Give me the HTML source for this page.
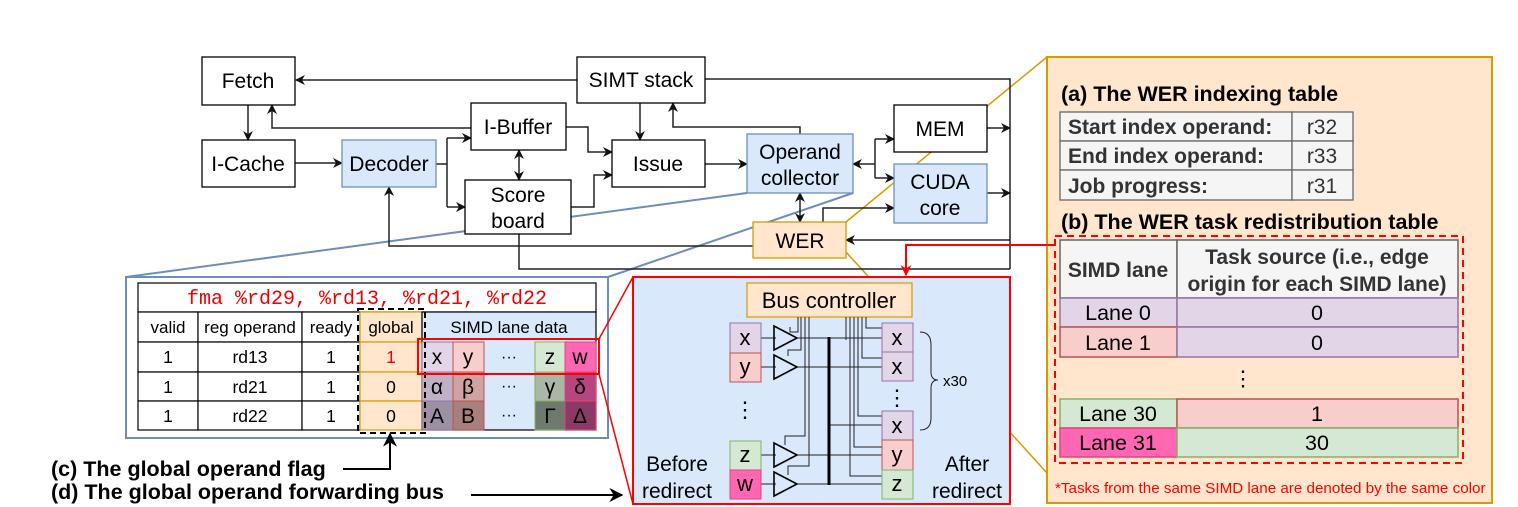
<!DOCTYPE html>
<html><head><meta charset="utf-8"><style>
html,body{margin:0;padding:0;background:#fff;}
svg{display:block;font-family:"Liberation Sans",Arial,sans-serif;}
</style></head><body>
<svg width="1518" height="507" viewBox="0 0 1518 507" xmlns="http://www.w3.org/2000/svg">
<defs>
<marker id="a" viewBox="0 0 10 10" refX="9" refY="5" markerWidth="10" markerHeight="10" orient="auto-start-reverse" markerUnits="userSpaceOnUse"><path d="M0,0 L10,5 L0,10 L3,5 z" fill="#111"/></marker>
<marker id="ar" viewBox="0 0 10 10" refX="9" refY="5" markerWidth="11" markerHeight="11" orient="auto" markerUnits="userSpaceOnUse"><path d="M0,0 L10,5 L0,10 L3,5 z" fill="#f00"/></marker>
<marker id="ab" viewBox="0 0 10 10" refX="9" refY="5" markerWidth="14" markerHeight="14" orient="auto" markerUnits="userSpaceOnUse"><path d="M0,0 L10,5 L0,10 L3,5 z" fill="#000"/></marker>
</defs>

<rect x="1047" y="57" width="445" height="446" fill="#ffe6cc" stroke="#d79b00" stroke-width="2"/>
<line x1="846" y1="222" x2="1047" y2="57" stroke="#d79b00" stroke-width="1.5"/>
<line x1="846" y1="252" x2="1047" y2="473" stroke="#d79b00" stroke-width="1.5"/>
<line x1="747" y1="193" x2="126" y2="277" stroke="#6c8ebf" stroke-width="2"/>
<line x1="853" y1="193" x2="608" y2="277" stroke="#6c8ebf" stroke-width="2"/>

<g stroke="#222" stroke-width="1.5" fill="none">
<line x1="577" y1="80" x2="296" y2="80" marker-end="url(#a)"/>
<polyline points="705,79 1010,79 1010,269"/>
<line x1="248" y1="105" x2="248" y2="140" marker-end="url(#a)"/>
<polyline points="471,128 272,128 272,105" marker-end="url(#a)"/>
<line x1="295" y1="163" x2="342" y2="163" marker-end="url(#a)"/>
<polyline points="436,164 447,164"/>
<polyline points="447,138 447,207"/>
<line x1="447" y1="138" x2="471" y2="138" marker-end="url(#a)"/>
<line x1="447" y1="207" x2="465" y2="207" marker-end="url(#a)"/>
<line x1="519" y1="150" x2="519" y2="180" marker-start="url(#a)" marker-end="url(#a)"/>
<polyline points="566,127 588,127 588,152 612,152" marker-end="url(#a)"/>
<polyline points="571,207 594,207 594,175 612,175" marker-end="url(#a)"/>
<line x1="640" y1="103" x2="640" y2="140" marker-end="url(#a)"/>
<polyline points="800,134 800,127 673,127 673,103" marker-end="url(#a)"/>
<line x1="705" y1="164" x2="747" y2="164" marker-end="url(#a)"/>
<line x1="875" y1="164" x2="853" y2="164" marker-end="url(#a)"/>
<polyline points="875,139 875,178"/>
<line x1="875" y1="139" x2="894" y2="139" marker-end="url(#a)"/>
<line x1="875" y1="178" x2="894" y2="178" marker-end="url(#a)"/>
<line x1="987" y1="128" x2="1010" y2="128" marker-end="url(#a)"/>
<line x1="987" y1="193" x2="1010" y2="193" marker-end="url(#a)"/>
<line x1="800" y1="193" x2="800" y2="222" marker-start="url(#a)" marker-end="url(#a)"/>
<polyline points="823,222 823,208 894,208" marker-end="url(#a)"/>
<line x1="1010" y1="240" x2="846" y2="240" marker-end="url(#a)"/>
<polyline points="753,246 389,246 389,187" marker-end="url(#a)"/>
<polyline points="519,234 519,269 1010,269"/>
</g>

<g stroke="#000" stroke-width="1.3" font-size="21" text-anchor="middle">
<rect x="202" y="57" width="93" height="48" fill="#fff"/><text x="248" y="88" stroke="none">Fetch</text>
<rect x="577" y="57" width="128" height="46" fill="#fff"/><text x="641" y="87" stroke="none">SIMT stack</text>
<rect x="471" y="103" width="95" height="47" fill="#fff"/><text x="518" y="134" stroke="none">I-Buffer</text>
<rect x="202" y="140" width="93" height="47" fill="#fff"/><text x="248" y="171" stroke="none">I-Cache</text>
<rect x="342" y="140" width="94" height="47" fill="#dae8fc" stroke="#6c8ebf"/><text x="389" y="171" stroke="none">Decoder</text>
<rect x="612" y="140" width="93" height="47" fill="#fff"/><text x="658" y="171" stroke="none">Issue</text>
<rect x="747" y="134" width="106" height="59" fill="#dae8fc" stroke="#6c8ebf"/><text x="800" y="159" stroke="none">Operand</text><text x="800" y="185" stroke="none">collector</text>
<rect x="894" y="105" width="93" height="47" fill="#fff"/><text x="940" y="136" stroke="none">MEM</text>
<rect x="894" y="164" width="93" height="59" fill="#dae8fc" stroke="#6c8ebf"/><text x="940" y="189" stroke="none">CUDA</text><text x="940" y="215" stroke="none">core</text>
<rect x="465" y="180" width="106" height="54" fill="#fff"/><text x="518" y="202" stroke="none">Score</text><text x="518" y="228" stroke="none">board</text>
<rect x="753" y="222" width="93" height="36" fill="#ffe6cc" stroke="#d79b00"/><text x="800" y="248" stroke="none">WER</text>
</g>

<rect x="126" y="277" width="482" height="161" fill="#fff" stroke="#6c8ebf" stroke-width="2"/>
<g font-size="17" text-anchor="middle">
<rect x="138" y="283" width="458" height="29" fill="#fff" stroke="#000" stroke-width="1.2"/>
<text x="367" y="304" fill="#e00" font-family="Liberation Mono,monospace" font-size="20">fma %rd29, %rd13, %rd21, %rd22</text>
<g stroke="#000" stroke-width="1.2" fill="#fff">
<rect x="138" y="312" width="60" height="30"/><rect x="198" y="312" width="104" height="30"/><rect x="302" y="312" width="58" height="30"/>
<rect x="138" y="342" width="60" height="30"/><rect x="198" y="342" width="104" height="30"/><rect x="302" y="342" width="58" height="30"/>
<rect x="138" y="372" width="60" height="29"/><rect x="198" y="372" width="104" height="29"/><rect x="302" y="372" width="58" height="29"/>
<rect x="138" y="401" width="60" height="29"/><rect x="198" y="401" width="104" height="29"/><rect x="302" y="401" width="58" height="29"/>
</g>
<g stroke="#d79b00" stroke-width="1.2" fill="#ffe6cc">
<rect x="360" y="312" width="62" height="30"/><rect x="360" y="342" width="62" height="30"/><rect x="360" y="372" width="62" height="29"/><rect x="360" y="401" width="62" height="29"/>
</g>
<rect x="422" y="312" width="174" height="118" fill="#dae8fc" stroke="#000" stroke-width="1.2"/>
<rect x="422" y="342" width="31" height="30" fill="#e1d5e7" stroke="#9673a6"/><rect x="453" y="342" width="31" height="30" fill="#f8cecc" stroke="#b85450"/>
<rect x="535" y="342" width="30" height="30" fill="#d5e8d4" stroke="#82b366"/><rect x="565" y="342" width="31" height="30" fill="#ff66b3" stroke="#e0457b"/>
<rect x="422" y="372" width="31" height="29" fill="#bfb0c6" stroke="#9673a6"/><rect x="453" y="372" width="31" height="29" fill="#cfa3a1" stroke="#b85450"/>
<rect x="535" y="372" width="30" height="29" fill="#a8b7a6" stroke="#82b366"/><rect x="565" y="372" width="31" height="29" fill="#b8467e" stroke="#e0457b"/>
<rect x="422" y="401" width="31" height="29" fill="#9c90a3" stroke="#9673a6"/><rect x="453" y="401" width="31" height="29" fill="#a77f7d" stroke="#b85450"/>
<rect x="535" y="401" width="30" height="29" fill="#6e7b6c" stroke="#82b366"/><rect x="565" y="401" width="31" height="29" fill="#8a3a64" stroke="#e0457b"/>
<text x="168" y="333">valid</text><text x="250" y="333">reg operand</text><text x="331" y="333">ready</text><text x="391" y="333">global</text><text x="509" y="333">SIMD lane data</text>
<g font-size="17.5">
<text x="168" y="363">1</text><text x="250" y="363">rd13</text><text x="331" y="363">1</text><text x="391" y="363" fill="#e00">1</text>
<text x="168" y="393">1</text><text x="250" y="393">rd21</text><text x="331" y="393">1</text><text x="391" y="393">0</text>
<text x="168" y="422">1</text><text x="250" y="422">rd22</text><text x="331" y="422">1</text><text x="391" y="422">0</text>
</g>
<g font-size="21">
<text x="437" y="364">x</text><text x="468" y="364">y</text><text x="509" y="362" font-size="16">···</text><text x="550" y="364">z</text><text x="580" y="364">w</text>
<text x="437" y="394">α</text><text x="468" y="394">β</text><text x="509" y="391" font-size="16">···</text><text x="550" y="394">γ</text><text x="580" y="394">δ</text>
<text x="437" y="423">A</text><text x="468" y="423">B</text><text x="509" y="420" font-size="16">···</text><text x="550" y="423">Γ</text><text x="580" y="423">Δ</text>
</g>
</g>
<rect x="358" y="309" width="67" height="124" fill="none" stroke="#000" stroke-width="2" stroke-dasharray="6,4"/>
<rect x="418" y="339" width="181" height="35" fill="none" stroke="#f00" stroke-width="2"/>
<line x1="599" y1="339" x2="633" y2="277" stroke="#f00" stroke-width="1.5"/>
<line x1="599" y1="374" x2="633" y2="504" stroke="#f00" stroke-width="1.5"/>

<g font-size="21.5" font-weight="bold">
<text x="51" y="476">(c) The global operand flag</text>
<text x="51" y="499">(d) The global operand forwarding bus</text>
</g>
<polyline points="343,469 390,469 390,434" fill="none" stroke="#000" stroke-width="2" marker-end="url(#ab)"/>
<line x1="471" y1="495" x2="622" y2="495" stroke="#000" stroke-width="2" marker-end="url(#ab)"/>

<rect x="633" y="277" width="377" height="227" fill="#dae8fc" stroke="#f00" stroke-width="2"/>
<polyline points="1055,245 906,245 906,275" fill="none" stroke="#f00" stroke-width="2" marker-end="url(#ar)"/>
<rect x="747" y="283" width="165" height="34" fill="#ffe6cc" stroke="#d79b00" stroke-width="1.2"/>
<text x="829" y="308" font-size="22" text-anchor="middle">Bus controller</text>
<g stroke="#222" stroke-width="1" fill="none">
<polyline points="798,317 798,332 790,332 790,327"/>
<polyline points="801,317 801,350 788,350 788,356"/>
<polyline points="805,317 805,436 785,436 785,445"/>
<polyline points="809,317 809,466 788,466 788,475"/>
<polyline points="866,317 866,328 882,328"/>
<polyline points="862,317 862,358 882,358"/>
<polyline points="858,317 858,416 882,416"/>
<polyline points="854,317 854,447 882,447"/>
<polyline points="850,317 850,476 882,476"/>
<polyline points="846,317 846,340"/>
<line x1="761" y1="338" x2="776" y2="338"/><line x1="797" y1="338" x2="882" y2="338"/>
<line x1="761" y1="367" x2="776" y2="367"/><line x1="797" y1="367" x2="882" y2="367"/>
<line x1="761" y1="455" x2="776" y2="455"/><line x1="797" y1="455" x2="882" y2="455"/>
<line x1="761" y1="484" x2="776" y2="484"/><line x1="797" y1="484" x2="882" y2="484"/>
<line x1="829" y1="425" x2="882" y2="425"/>
<path d="M920,332 Q931,332 931,345 L931,372 Q931,380 938,380 Q931,380 931,388 L931,418 Q931,430 920,430"/>
</g>
<g fill="none" stroke="#000" stroke-width="1.6">
<polygon points="774,326 797,338 774,350"/>
<polygon points="774,355 797,367 774,379"/>
<polygon points="774,443 797,455 774,467"/>
<polygon points="774,472 797,484 774,496"/>
</g>
<line x1="829" y1="337" x2="829" y2="485" stroke="#000" stroke-width="3"/>
<g font-size="22" text-anchor="middle">
<rect x="730" y="323" width="31" height="30" fill="#e1d5e7" stroke="#9673a6"/><text x="745" y="345">x</text>
<rect x="730" y="353" width="31" height="29" fill="#f8cecc" stroke="#b85450"/><text x="745" y="374">y</text>
<text x="745" y="417">⋮</text>
<rect x="730" y="441" width="31" height="29" fill="#d5e8d4" stroke="#82b366"/><text x="745" y="462">z</text>
<rect x="730" y="470" width="31" height="29" fill="#ff66b3" stroke="#e0457b"/><text x="745" y="491">w</text>
<rect x="882" y="323" width="31" height="29" fill="#e1d5e7" stroke="#9673a6"/><text x="897" y="345">x</text>
<rect x="882" y="352" width="31" height="29" fill="#e1d5e7" stroke="#9673a6"/><text x="897" y="374">x</text>
<text x="897" y="405">⋮</text>
<rect x="882" y="411" width="31" height="29" fill="#e1d5e7" stroke="#9673a6"/><text x="897" y="433">x</text>
<rect x="882" y="440" width="31" height="30" fill="#f8cecc" stroke="#b85450"/><text x="897" y="462">y</text>
<rect x="882" y="470" width="31" height="29" fill="#d5e8d4" stroke="#82b366"/><text x="897" y="491">z</text>
</g>
<g font-size="21" text-anchor="middle">
<text x="677" y="471">Before</text><text x="677" y="498">redirect</text>
<text x="967" y="471">After</text><text x="967" y="498">redirect</text>
</g>
<text x="943" y="386" font-size="15">x30</text>

<g font-weight="bold" fill="#000">
<text x="1061" y="101" font-size="21.5">(a) The WER indexing table</text>
<text x="1061" y="229" font-size="21.5">(b) The WER task redistribution table</text>
</g>
<g stroke="#666" stroke-width="1.3" fill="#f5f5f5">
<rect x="1060" y="112" width="232" height="29"/><rect x="1292" y="112" width="61" height="29"/>
<rect x="1060" y="141" width="232" height="29"/><rect x="1292" y="141" width="61" height="29"/>
<rect x="1060" y="170" width="232" height="30"/><rect x="1292" y="170" width="61" height="30"/>
</g>
<g font-size="21" fill="#333">
<text x="1068" y="134" font-weight="bold">Start index operand:</text><text x="1322" y="134" text-anchor="middle">r32</text>
<text x="1068" y="163" font-weight="bold">End index operand:</text><text x="1322" y="163" text-anchor="middle">r33</text>
<text x="1068" y="193" font-weight="bold">Job progress:</text><text x="1322" y="193" text-anchor="middle">r31</text>
</g>
<rect x="1055" y="236" width="408" height="227" fill="none" stroke="#f00" stroke-width="2" stroke-dasharray="7,5"/>
<g stroke-width="1.5">
<rect x="1060" y="240" width="117" height="58" fill="#f5f5f5" stroke="#666"/><rect x="1177" y="240" width="281" height="58" fill="#f5f5f5" stroke="#666"/>
<rect x="1060" y="298" width="117" height="29" fill="#e1d5e7" stroke="#9673a6"/><rect x="1177" y="298" width="281" height="29" fill="#e1d5e7" stroke="#9673a6"/>
<rect x="1060" y="327" width="117" height="30" fill="#f8cecc" stroke="#b85450"/><rect x="1177" y="327" width="281" height="30" fill="#e1d5e7" stroke="#9673a6"/>
<rect x="1060" y="399" width="117" height="29" fill="#d5e8d4" stroke="#82b366"/><rect x="1177" y="399" width="281" height="29" fill="#f8cecc" stroke="#b85450"/>
<rect x="1060" y="428" width="117" height="29" fill="#ff66b3" stroke="#e0457b"/><rect x="1177" y="428" width="281" height="29" fill="#d5e8d4" stroke="#82b366"/>
</g>
<g font-size="21.5" text-anchor="middle">
<text x="1118" y="277" font-weight="bold" fill="#333" font-size="21">SIMD lane</text>
<text x="1317" y="264" font-weight="bold" fill="#333" font-size="21">Task source (i.e., edge</text>
<text x="1317" y="291" font-weight="bold" fill="#333" font-size="21">origin for each SIMD lane)</text>
<text x="1118" y="320">Lane 0</text><text x="1317" y="320">0</text>
<text x="1118" y="350">Lane 1</text><text x="1317" y="350">0</text>
<text x="1243" y="386">⋮</text>
<text x="1118" y="421">Lane 30</text><text x="1317" y="421">1</text>
<text x="1118" y="450">Lane 31</text><text x="1317" y="450">30</text>
</g>
<text x="1055" y="493" font-size="15.2" fill="#f00">*Tasks from the same SIMD lane are denoted by the same color</text>
</svg>
</body></html>
